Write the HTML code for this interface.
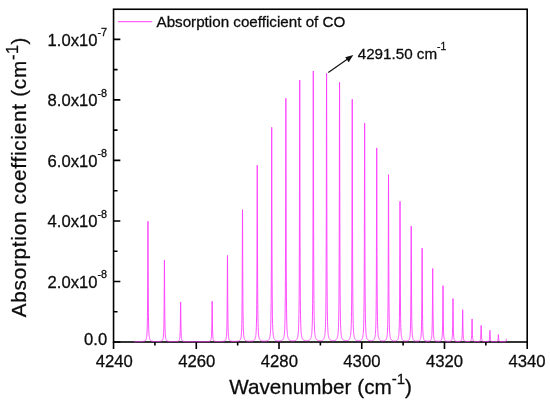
<!DOCTYPE html>
<html><head><meta charset="utf-8"><title>Absorption coefficient of CO</title>
<style>html,body{margin:0;padding:0;background:#fff}svg{display:block}.t{font-family:"Liberation Sans",Arial,sans-serif;fill:#0c0c0c;stroke:#0c0c0c;stroke-width:0.28px}</style></head>
<body>
<svg width="550" height="404" viewBox="0 0 550 404">
<rect width="550" height="404" fill="#fff"/>
<rect x="113.55" y="9.25" width="413.65" height="332.75" fill="none" stroke="#000" stroke-width="1.6"/>
<path d="M113.55 342.0v6.9M196.28 342.0v6.9M279.01 342.0v6.9M361.74 342.0v6.9M444.47 342.0v6.9M527.20 342.0v6.9M154.92 342.0v3.6M237.65 342.0v3.6M320.38 342.0v3.6M403.11 342.0v3.6M485.84 342.0v3.6M113.55 342.00h6.8M113.55 281.47h6.8M113.55 220.94h6.8M113.55 160.41h6.8M113.55 99.88h6.8M113.55 39.35h6.8M113.55 311.74h4.0M113.55 251.21h4.0M113.55 190.68h4.0M113.55 130.15h4.0M113.55 69.62h4.0" stroke="#000" stroke-width="1.6" fill="none"/>
<polyline points="134.23,341.69 134.33,341.69 134.43,341.69 134.53,341.68 134.63,341.68 134.73,341.68 134.83,341.68 134.93,341.68 135.03,341.68 135.13,341.68 135.23,341.68 135.33,341.68 135.43,341.68 135.53,341.68 135.63,341.68 135.73,341.67 135.83,341.67 135.93,341.67 136.03,341.67 136.13,341.67 136.23,341.67 136.33,341.67 136.43,341.67 136.53,341.66 136.63,341.66 136.73,341.66 136.83,341.66 136.93,341.66 137.03,341.66 137.13,341.66 137.23,341.66 137.33,341.65 137.43,341.65 137.53,341.65 137.63,341.65 137.73,341.65 137.83,341.65 137.93,341.64 138.03,341.64 138.13,341.64 138.23,341.64 138.33,341.64 138.43,341.63 138.53,341.63 138.63,341.63 138.73,341.63 138.83,341.62 138.93,341.62 139.03,341.62 139.13,341.62 139.23,341.61 139.33,341.61 139.43,341.61 139.53,341.61 139.63,341.60 139.73,341.60 139.83,341.60 139.93,341.59 140.03,341.59 140.13,341.59 140.23,341.58 140.33,341.58 140.43,341.57 140.53,341.57 140.63,341.56 140.73,341.56 140.83,341.56 140.93,341.55 141.03,341.55 141.13,341.54 141.23,341.53 141.33,341.53 141.43,341.52 141.53,341.52 141.63,341.51 141.73,341.50 141.83,341.49 141.93,341.49 142.03,341.48 142.13,341.47 142.23,341.46 142.33,341.45 142.43,341.44 142.53,341.43 142.63,341.42 142.73,341.40 142.83,341.39 142.93,341.38 143.03,341.36 143.13,341.35 143.23,341.33 143.33,341.32 143.43,341.30 143.53,341.28 143.63,341.26 143.73,341.23 143.83,341.21 143.93,341.18 144.03,341.16 144.13,341.13 144.23,341.09 144.33,341.06 144.43,341.02 144.53,340.98 144.63,340.93 144.73,340.88 144.83,340.83 144.93,340.77 145.03,340.70 145.13,340.63 145.23,340.55 145.33,340.46 145.43,340.36 145.53,340.24 145.63,340.12 145.73,339.97 145.83,339.80 145.93,339.61 146.03,339.39 146.13,339.14 146.23,338.83 146.33,338.48 146.43,338.05 146.53,337.53 146.63,336.90 146.73,336.12 146.83,335.14 146.93,333.88 147.03,332.23 147.13,330.02 147.23,326.98 147.33,322.68 147.43,316.39 147.53,306.88 147.63,292.22 147.73,270.18 147.83,242.04 147.93,222.15 147.96,221.27 148.03,230.27 148.13,257.40 148.23,282.98 148.33,300.84 148.43,312.46 148.53,320.06 148.63,325.17 148.73,328.73 148.83,331.28 148.93,333.16 149.03,334.59 149.13,335.69 149.23,336.55 149.33,337.25 149.43,337.81 149.53,338.28 149.63,338.67 149.73,338.99 149.83,339.27 149.93,339.50 150.03,339.71 150.13,339.88 150.23,340.04 150.33,340.17 150.43,340.29 150.53,340.40 150.63,340.49 150.73,340.58 150.83,340.65 150.93,340.72 151.03,340.78 151.13,340.84 151.23,340.89 151.33,340.94 151.43,340.98 151.53,341.02 151.63,341.05 151.73,341.09 151.83,341.12 151.93,341.14 152.03,341.17 152.13,341.19 152.23,341.22 152.33,341.24 152.43,341.26 152.53,341.28 152.63,341.29 152.73,341.31 152.83,341.32 152.93,341.34 153.03,341.35 153.13,341.36 153.23,341.37 153.33,341.38 153.43,341.39 153.53,341.40 153.63,341.41 153.73,341.42 153.83,341.43 153.93,341.44 154.03,341.44 154.13,341.45 154.23,341.45 154.33,341.46 154.43,341.47 154.53,341.47 154.63,341.48 154.73,341.48 154.83,341.48 154.93,341.49 155.03,341.49 155.13,341.50 155.23,341.50 155.33,341.50 155.43,341.50 155.53,341.51 155.63,341.51 155.73,341.51 155.83,341.51 155.93,341.51 156.03,341.51 156.13,341.52 156.23,341.52 156.33,341.52 156.43,341.52 156.53,341.52 156.63,341.52 156.73,341.52 156.83,341.52 156.93,341.52 157.03,341.52 157.13,341.52 157.23,341.52 157.33,341.52 157.43,341.51 157.53,341.51 157.63,341.51 157.73,341.51 157.83,341.51 157.93,341.50 158.03,341.50 158.13,341.50 158.23,341.49 158.33,341.49 158.43,341.49 158.53,341.48 158.63,341.48 158.73,341.47 158.83,341.47 158.93,341.46 159.03,341.46 159.13,341.45 159.23,341.44 159.33,341.44 159.43,341.43 159.53,341.42 159.63,341.41 159.73,341.40 159.83,341.39 159.93,341.38 160.03,341.37 160.13,341.35 160.23,341.34 160.33,341.32 160.43,341.30 160.53,341.29 160.63,341.27 160.73,341.25 160.83,341.22 160.93,341.20 161.03,341.17 161.13,341.14 161.23,341.11 161.33,341.07 161.43,341.03 161.53,340.98 161.63,340.93 161.73,340.88 161.83,340.82 161.93,340.75 162.03,340.67 162.13,340.58 162.23,340.48 162.33,340.37 162.43,340.23 162.53,340.08 162.63,339.90 162.73,339.69 162.83,339.44 162.93,339.15 163.03,338.79 163.13,338.34 163.23,337.79 163.33,337.10 163.43,336.21 163.53,335.03 163.63,333.45 163.73,331.27 163.83,328.17 163.93,323.59 164.03,316.65 164.13,305.94 164.23,290.06 164.33,270.95 164.43,260.18 164.44,260.14 164.53,269.03 164.63,287.99 164.73,304.44 164.83,315.68 164.93,322.96 165.03,327.75 165.13,330.99 165.23,333.25 165.33,334.88 165.43,336.10 165.53,337.02 165.63,337.73 165.73,338.29 165.83,338.75 165.93,339.12 166.03,339.42 166.13,339.68 166.23,339.89 166.33,340.07 166.43,340.23 166.53,340.36 166.63,340.48 166.73,340.58 166.83,340.67 166.93,340.75 167.03,340.82 167.13,340.88 167.23,340.94 167.33,340.99 167.43,341.04 167.53,341.08 167.63,341.12 167.73,341.15 167.83,341.18 167.93,341.21 168.03,341.24 168.13,341.26 168.23,341.28 168.33,341.30 168.43,341.32 168.53,341.34 168.63,341.36 168.73,341.37 168.83,341.39 168.93,341.40 169.03,341.41 169.13,341.42 169.23,341.44 169.33,341.45 169.43,341.45 169.53,341.46 169.63,341.47 169.73,341.48 169.83,341.49 169.93,341.49 170.03,341.50 170.13,341.51 170.23,341.51 170.33,341.52 170.43,341.52 170.53,341.53 170.63,341.53 170.73,341.54 170.83,341.54 170.93,341.55 171.03,341.55 171.13,341.55 171.23,341.56 171.33,341.56 171.43,341.56 171.53,341.57 171.63,341.57 171.73,341.57 171.83,341.57 171.93,341.57 172.03,341.58 172.13,341.58 172.23,341.58 172.33,341.58 172.43,341.58 172.53,341.58 172.63,341.59 172.73,341.59 172.83,341.59 172.93,341.59 173.03,341.59 173.13,341.59 173.23,341.59 173.33,341.59 173.43,341.59 173.53,341.59 173.63,341.59 173.73,341.59 173.83,341.59 173.93,341.59 174.03,341.59 174.13,341.59 174.23,341.59 174.33,341.59 174.43,341.59 174.53,341.58 174.63,341.58 174.73,341.58 174.83,341.58 174.93,341.58 175.03,341.58 175.13,341.57 175.23,341.57 175.33,341.57 175.43,341.56 175.53,341.56 175.63,341.56 175.73,341.55 175.83,341.55 175.93,341.55 176.03,341.54 176.13,341.54 176.23,341.53 176.33,341.52 176.43,341.52 176.53,341.51 176.63,341.50 176.73,341.49 176.83,341.48 176.93,341.47 177.03,341.46 177.13,341.45 177.23,341.44 177.33,341.42 177.43,341.41 177.53,341.39 177.63,341.37 177.73,341.35 177.83,341.32 177.93,341.30 178.03,341.27 178.13,341.23 178.23,341.20 178.33,341.15 178.43,341.10 178.53,341.05 178.63,340.98 178.73,340.91 178.83,340.82 178.93,340.72 179.03,340.60 179.13,340.45 179.23,340.27 179.33,340.06 179.43,339.79 179.53,339.45 179.63,339.01 179.73,338.43 179.83,337.65 179.93,336.57 180.03,335.03 180.13,332.76 180.23,329.30 180.33,323.97 180.43,316.12 180.53,306.88 180.63,302.15 180.63,302.15 180.73,306.96 180.83,316.20 180.93,324.03 181.03,329.34 181.13,332.78 181.23,335.05 181.33,336.58 181.43,337.66 181.53,338.44 181.63,339.02 181.73,339.46 181.83,339.80 181.93,340.07 182.03,340.28 182.13,340.46 182.23,340.61 182.33,340.73 182.43,340.83 182.53,340.92 182.63,341.00 182.73,341.06 182.83,341.12 182.93,341.17 183.03,341.21 183.13,341.25 183.23,341.28 183.33,341.31 183.43,341.34 183.53,341.36 183.63,341.39 183.73,341.41 183.83,341.43 183.93,341.44 184.03,341.46 184.13,341.47 184.23,341.48 184.33,341.50 184.43,341.51 184.53,341.52 184.63,341.53 184.73,341.53 184.83,341.54 184.93,341.55 185.03,341.56 185.13,341.56 185.23,341.57 185.33,341.58 185.43,341.58 185.53,341.59 185.63,341.59 185.73,341.60 185.83,341.60 185.93,341.60 186.03,341.61 186.13,341.61 186.23,341.62 186.33,341.62 186.43,341.62 186.53,341.62 186.63,341.63 186.73,341.63 186.83,341.63 186.93,341.63 187.03,341.64 187.13,341.64 187.23,341.64 187.33,341.64 187.43,341.65 187.53,341.65 187.63,341.65 187.73,341.65 187.83,341.65 187.93,341.65 188.03,341.65 188.13,341.66 188.23,341.66 188.33,341.66 188.43,341.66 188.53,341.66 188.63,341.66 188.73,341.66 188.83,341.66 188.93,341.67 189.03,341.67 189.13,341.67 189.23,341.67 189.33,341.67 189.43,341.67 189.53,341.67 189.63,341.67 189.73,341.67 189.83,341.67 189.93,341.67 190.03,341.67 190.13,341.68 190.23,341.68 190.33,341.68 190.43,341.68 190.53,341.68 190.63,341.68 190.73,341.68 190.83,341.68 190.93,341.68 191.03,341.68 191.13,341.68 191.23,341.68 191.33,341.68 191.43,341.68 191.53,341.68 191.63,341.68 191.73,341.68 191.83,341.68 191.93,341.68 192.03,341.68 192.13,341.68 192.23,341.68 192.33,341.69 192.43,341.69 192.53,341.69 192.63,341.69 192.73,341.69 192.83,341.69 192.93,341.69 193.03,341.69 193.13,341.69 193.23,341.69 193.33,341.69 193.43,341.69 193.53,341.69 193.63,341.69 193.73,341.69 193.83,341.69 193.93,341.69 194.03,341.69 194.13,341.69 194.23,341.69 194.33,341.69 194.43,341.69 194.53,341.69 194.63,341.69 194.73,341.69 194.83,341.69 194.93,341.69 195.03,341.69 195.13,341.69 195.23,341.69 195.33,341.69 195.43,341.69 195.53,341.69 195.63,341.69 195.73,341.69 195.83,341.69 195.93,341.69 196.03,341.69 196.13,341.69 196.23,341.69 196.33,341.69 196.43,341.69 196.53,341.69 196.63,341.69 196.73,341.69 196.83,341.69 196.93,341.69 197.03,341.69 197.13,341.69 197.23,341.69 197.33,341.69 197.43,341.69 197.53,341.69 197.63,341.69 197.73,341.69 197.83,341.69 197.93,341.69 198.03,341.69 198.13,341.69 198.23,341.69 198.33,341.69 198.43,341.69 198.53,341.69 198.63,341.69 198.73,341.69 198.83,341.69 198.93,341.69 199.03,341.69 199.13,341.69 199.23,341.69 199.33,341.68 199.43,341.68 199.53,341.68 199.63,341.68 199.73,341.68 199.83,341.68 199.93,341.68 200.03,341.68 200.13,341.68 200.23,341.68 200.33,341.68 200.43,341.68 200.53,341.68 200.63,341.68 200.73,341.68 200.83,341.68 200.93,341.68 201.03,341.68 201.13,341.68 201.23,341.68 201.33,341.68 201.43,341.68 201.53,341.68 201.63,341.68 201.73,341.68 201.83,341.67 201.93,341.67 202.03,341.67 202.13,341.67 202.23,341.67 202.33,341.67 202.43,341.67 202.53,341.67 202.63,341.67 202.73,341.67 202.83,341.67 202.93,341.67 203.03,341.67 203.13,341.67 203.23,341.66 203.33,341.66 203.43,341.66 203.53,341.66 203.63,341.66 203.73,341.66 203.83,341.66 203.93,341.66 204.03,341.66 204.13,341.65 204.23,341.65 204.33,341.65 204.43,341.65 204.53,341.65 204.63,341.65 204.73,341.65 204.83,341.64 204.93,341.64 205.03,341.64 205.13,341.64 205.23,341.64 205.33,341.64 205.43,341.63 205.53,341.63 205.63,341.63 205.73,341.63 205.83,341.62 205.93,341.62 206.03,341.62 206.13,341.62 206.23,341.61 206.33,341.61 206.43,341.61 206.53,341.60 206.63,341.60 206.73,341.60 206.83,341.59 206.93,341.59 207.03,341.58 207.13,341.58 207.23,341.57 207.33,341.57 207.43,341.56 207.53,341.56 207.63,341.55 207.73,341.54 207.83,341.54 207.93,341.53 208.03,341.52 208.13,341.51 208.23,341.50 208.33,341.49 208.43,341.48 208.53,341.47 208.63,341.46 208.73,341.44 208.83,341.43 208.93,341.41 209.03,341.39 209.13,341.37 209.23,341.35 209.33,341.32 209.43,341.30 209.53,341.27 209.63,341.23 209.73,341.19 209.83,341.15 209.93,341.10 210.03,341.04 210.13,340.98 210.23,340.90 210.33,340.82 210.43,340.71 210.53,340.59 210.63,340.45 210.73,340.28 210.83,340.06 210.93,339.80 211.03,339.46 211.13,339.04 211.23,338.48 211.33,337.73 211.43,336.70 211.53,335.24 211.63,333.10 211.73,329.86 211.83,324.87 211.93,317.38 212.03,307.91 212.13,301.45 212.15,301.23 212.23,304.49 212.33,313.67 212.43,322.18 212.53,328.10 212.63,331.95 212.73,334.47 212.83,336.17 212.93,337.35 213.03,338.20 213.13,338.82 213.23,339.30 213.33,339.66 213.43,339.95 213.53,340.18 213.63,340.37 213.73,340.52 213.83,340.65 213.93,340.76 214.03,340.85 214.13,340.93 214.23,341.00 214.33,341.06 214.43,341.11 214.53,341.15 214.63,341.19 214.73,341.23 214.83,341.26 214.93,341.29 215.03,341.31 215.13,341.33 215.23,341.35 215.33,341.37 215.43,341.39 215.53,341.40 215.63,341.42 215.73,341.43 215.83,341.44 215.93,341.45 216.03,341.46 216.13,341.47 216.23,341.48 216.33,341.48 216.43,341.49 216.53,341.50 216.63,341.50 216.73,341.51 216.83,341.51 216.93,341.52 217.03,341.52 217.13,341.52 217.23,341.53 217.33,341.53 217.43,341.53 217.53,341.53 217.63,341.54 217.73,341.54 217.83,341.54 217.93,341.54 218.03,341.54 218.13,341.54 218.23,341.55 218.33,341.55 218.43,341.55 218.53,341.55 218.63,341.55 218.73,341.55 218.83,341.55 218.93,341.55 219.03,341.55 219.13,341.55 219.23,341.55 219.33,341.54 219.43,341.54 219.53,341.54 219.63,341.54 219.73,341.54 219.83,341.54 219.93,341.54 220.03,341.53 220.13,341.53 220.23,341.53 220.33,341.53 220.43,341.52 220.53,341.52 220.63,341.52 220.73,341.51 220.83,341.51 220.93,341.51 221.03,341.50 221.13,341.50 221.23,341.49 221.33,341.49 221.43,341.48 221.53,341.48 221.63,341.47 221.73,341.47 221.83,341.46 221.93,341.45 222.03,341.45 222.13,341.44 222.23,341.43 222.33,341.42 222.43,341.41 222.53,341.40 222.63,341.39 222.73,341.38 222.83,341.37 222.93,341.36 223.03,341.34 223.13,341.33 223.23,341.31 223.33,341.30 223.43,341.28 223.53,341.26 223.63,341.24 223.73,341.21 223.83,341.19 223.93,341.16 224.03,341.13 224.13,341.10 224.23,341.07 224.33,341.03 224.43,340.99 224.53,340.94 224.63,340.89 224.73,340.83 224.83,340.77 224.93,340.70 225.03,340.62 225.13,340.53 225.23,340.43 225.33,340.31 225.43,340.18 225.53,340.03 225.63,339.85 225.73,339.64 225.83,339.40 225.93,339.10 226.03,338.75 226.13,338.32 226.23,337.79 226.33,337.12 226.43,336.27 226.53,335.16 226.63,333.68 226.73,331.66 226.83,328.82 226.93,324.69 227.03,318.50 227.13,308.97 227.23,294.47 227.33,274.87 227.43,257.87 227.48,255.50 227.53,258.88 227.63,276.77 227.73,296.05 227.83,310.03 227.93,319.18 228.03,325.14 228.13,329.12 228.23,331.87 228.33,333.82 228.43,335.26 228.53,336.34 228.63,337.17 228.73,337.83 228.83,338.35 228.93,338.77 229.03,339.12 229.13,339.40 229.23,339.64 229.33,339.85 229.43,340.02 229.53,340.17 229.63,340.30 229.73,340.41 229.83,340.51 229.93,340.60 230.03,340.68 230.13,340.75 230.23,340.81 230.33,340.86 230.43,340.91 230.53,340.95 230.63,340.99 230.73,341.03 230.83,341.06 230.93,341.09 231.03,341.12 231.13,341.15 231.23,341.17 231.33,341.19 231.43,341.21 231.53,341.23 231.63,341.24 231.73,341.26 231.83,341.27 231.93,341.29 232.03,341.30 232.13,341.31 232.23,341.32 232.33,341.33 232.43,341.34 232.53,341.34 232.63,341.35 232.73,341.36 232.83,341.36 232.93,341.37 233.03,341.38 233.13,341.38 233.23,341.38 233.33,341.39 233.43,341.39 233.53,341.39 233.63,341.40 233.73,341.40 233.83,341.40 233.93,341.40 234.03,341.40 234.13,341.40 234.23,341.40 234.33,341.40 234.43,341.40 234.53,341.40 234.63,341.40 234.73,341.40 234.83,341.40 234.93,341.40 235.03,341.40 235.13,341.40 235.23,341.39 235.33,341.39 235.43,341.39 235.53,341.38 235.63,341.38 235.73,341.38 235.83,341.37 235.93,341.37 236.03,341.36 236.13,341.36 236.23,341.35 236.33,341.34 236.43,341.34 236.53,341.33 236.63,341.32 236.73,341.31 236.83,341.30 236.93,341.29 237.03,341.28 237.13,341.27 237.23,341.26 237.33,341.25 237.43,341.24 237.53,341.22 237.63,341.21 237.73,341.19 237.83,341.17 237.93,341.15 238.03,341.13 238.13,341.11 238.23,341.09 238.33,341.07 238.43,341.04 238.53,341.01 238.63,340.98 238.73,340.95 238.83,340.91 238.93,340.87 239.03,340.83 239.13,340.78 239.23,340.73 239.33,340.67 239.43,340.61 239.53,340.54 239.63,340.47 239.73,340.38 239.83,340.29 239.93,340.19 240.03,340.07 240.13,339.94 240.23,339.79 240.33,339.62 240.43,339.43 240.53,339.21 240.63,338.95 240.73,338.65 240.83,338.29 240.93,337.87 241.03,337.36 241.13,336.75 241.23,335.99 241.33,335.05 241.43,333.85 241.53,332.30 241.63,330.25 241.73,327.48 241.83,323.62 241.93,318.08 242.03,309.85 242.13,297.27 242.23,277.92 242.33,250.11 242.43,220.19 242.51,209.66 242.53,210.42 242.63,231.57 242.73,262.45 242.83,286.83 242.93,303.09 243.03,313.63 243.13,320.60 243.23,325.36 243.33,328.71 243.43,331.15 243.53,332.97 243.63,334.36 243.73,335.44 243.83,336.30 243.93,337.00 244.03,337.56 244.13,338.03 244.23,338.42 244.33,338.75 244.43,339.03 244.53,339.28 244.63,339.48 244.73,339.67 244.83,339.82 244.93,339.96 245.03,340.09 245.13,340.20 245.23,340.29 245.33,340.38 245.43,340.46 245.53,340.53 245.63,340.59 245.73,340.65 245.83,340.71 245.93,340.75 246.03,340.80 246.13,340.84 246.23,340.87 246.33,340.91 246.43,340.94 246.53,340.97 246.63,340.99 246.73,341.02 246.83,341.04 246.93,341.06 247.03,341.08 247.13,341.09 247.23,341.11 247.33,341.13 247.43,341.14 247.53,341.15 247.63,341.16 247.73,341.17 247.83,341.18 247.93,341.19 248.03,341.20 248.13,341.21 248.23,341.22 248.33,341.22 248.43,341.23 248.53,341.23 248.63,341.24 248.73,341.24 248.83,341.24 248.93,341.25 249.03,341.25 249.13,341.25 249.23,341.25 249.33,341.25 249.43,341.25 249.53,341.25 249.63,341.25 249.73,341.25 249.83,341.25 249.93,341.25 250.03,341.25 250.13,341.24 250.23,341.24 250.33,341.24 250.43,341.23 250.53,341.23 250.63,341.22 250.73,341.22 250.83,341.21 250.93,341.20 251.03,341.19 251.13,341.19 251.23,341.18 251.33,341.17 251.43,341.16 251.53,341.15 251.63,341.13 251.73,341.12 251.83,341.11 251.93,341.09 252.03,341.08 252.13,341.06 252.23,341.04 252.33,341.02 252.43,341.00 252.53,340.98 252.63,340.96 252.73,340.93 252.83,340.90 252.93,340.88 253.03,340.84 253.13,340.81 253.23,340.77 253.33,340.73 253.43,340.69 253.53,340.64 253.63,340.59 253.73,340.54 253.83,340.48 253.93,340.41 254.03,340.34 254.13,340.26 254.23,340.17 254.33,340.08 254.43,339.97 254.53,339.85 254.63,339.72 254.73,339.57 254.83,339.41 254.93,339.22 255.03,339.01 255.13,338.76 255.23,338.48 255.33,338.16 255.43,337.78 255.53,337.34 255.63,336.82 255.73,336.19 255.83,335.44 255.93,334.51 256.03,333.37 256.13,331.92 256.23,330.07 256.33,327.65 256.43,324.40 256.53,319.94 256.63,313.63 256.73,304.37 256.83,290.39 256.93,268.83 257.03,236.45 257.13,195.20 257.23,166.33 257.25,165.12 257.33,178.58 257.43,218.40 257.53,255.79 257.63,281.87 257.73,298.83 257.83,309.92 257.93,317.39 258.03,322.58 258.13,326.30 258.23,329.05 258.33,331.14 258.43,332.75 258.53,334.01 258.63,335.03 258.73,335.85 258.83,336.53 258.93,337.10 259.03,337.57 259.13,337.98 259.23,338.32 259.33,338.62 259.43,338.87 259.53,339.10 259.63,339.30 259.73,339.47 259.83,339.62 259.93,339.76 260.03,339.88 260.13,339.99 260.23,340.09 260.33,340.18 260.43,340.26 260.53,340.34 260.63,340.40 260.73,340.46 260.83,340.52 260.93,340.57 261.03,340.62 261.13,340.66 261.23,340.70 261.33,340.73 261.43,340.77 261.53,340.80 261.63,340.83 261.73,340.85 261.83,340.88 261.93,340.90 262.03,340.92 262.13,340.94 262.23,340.96 262.33,340.97 262.43,340.99 262.53,341.00 262.63,341.02 262.73,341.03 262.83,341.04 262.93,341.05 263.03,341.06 263.13,341.06 263.23,341.07 263.33,341.08 263.43,341.08 263.53,341.09 263.63,341.09 263.73,341.10 263.83,341.10 263.93,341.10 264.03,341.10 264.13,341.10 264.23,341.10 264.33,341.10 264.43,341.10 264.53,341.10 264.63,341.10 264.73,341.09 264.83,341.09 264.93,341.09 265.03,341.08 265.13,341.07 265.23,341.07 265.33,341.06 265.43,341.05 265.53,341.04 265.63,341.03 265.73,341.02 265.83,341.01 265.93,341.00 266.03,340.99 266.13,340.97 266.23,340.96 266.33,340.94 266.43,340.92 266.53,340.91 266.63,340.88 266.73,340.86 266.83,340.84 266.93,340.81 267.03,340.79 267.13,340.76 267.23,340.73 267.33,340.69 267.43,340.66 267.53,340.62 267.63,340.57 267.73,340.53 267.83,340.48 267.93,340.42 268.03,340.37 268.13,340.30 268.23,340.23 268.33,340.16 268.43,340.07 268.53,339.98 268.63,339.88 268.73,339.77 268.83,339.65 268.93,339.52 269.03,339.36 269.13,339.20 269.23,339.01 269.33,338.79 269.43,338.55 269.53,338.28 269.63,337.96 269.73,337.60 269.83,337.17 269.93,336.68 270.03,336.10 270.13,335.41 270.23,334.58 270.33,333.57 270.43,332.32 270.53,330.77 270.63,328.79 270.73,326.24 270.83,322.86 270.93,318.28 271.03,311.89 271.13,302.70 271.23,289.01 271.33,268.08 271.43,235.90 271.53,190.06 271.63,142.22 271.71,127.38 271.73,129.39 271.83,165.83 271.93,215.75 272.03,254.50 272.13,280.22 272.23,296.91 272.33,307.96 272.43,315.52 272.53,320.86 272.63,324.75 272.73,327.66 272.83,329.88 272.93,331.62 273.03,332.99 273.13,334.11 273.23,335.02 273.33,335.77 273.43,336.40 273.53,336.93 273.63,337.38 273.73,337.77 273.83,338.11 273.93,338.40 274.03,338.65 274.13,338.88 274.23,339.08 274.33,339.26 274.43,339.41 274.53,339.55 274.63,339.68 274.73,339.79 274.83,339.90 274.93,339.99 275.03,340.08 275.13,340.15 275.23,340.22 275.33,340.29 275.43,340.35 275.53,340.40 275.63,340.45 275.73,340.50 275.83,340.54 275.93,340.58 276.03,340.62 276.13,340.65 276.23,340.68 276.33,340.71 276.43,340.73 276.53,340.76 276.63,340.78 276.73,340.80 276.83,340.82 276.93,340.84 277.03,340.85 277.13,340.87 277.23,340.88 277.33,340.89 277.43,340.91 277.53,340.92 277.63,340.92 277.73,340.93 277.83,340.94 277.93,340.95 278.03,340.95 278.13,340.95 278.23,340.96 278.33,340.96 278.43,340.96 278.53,340.96 278.63,340.96 278.73,340.96 278.83,340.96 278.93,340.96 279.03,340.96 279.13,340.95 279.23,340.95 279.33,340.94 279.43,340.94 279.53,340.93 279.63,340.92 279.73,340.91 279.83,340.90 279.93,340.89 280.03,340.88 280.13,340.86 280.23,340.85 280.33,340.83 280.43,340.82 280.53,340.80 280.63,340.78 280.73,340.76 280.83,340.73 280.93,340.71 281.03,340.68 281.13,340.65 281.23,340.62 281.33,340.59 281.43,340.55 281.53,340.51 281.63,340.47 281.73,340.42 281.83,340.37 281.93,340.32 282.03,340.26 282.13,340.20 282.23,340.13 282.33,340.06 282.43,339.98 282.53,339.89 282.63,339.79 282.73,339.68 282.83,339.57 282.93,339.44 283.03,339.29 283.13,339.13 283.23,338.95 283.33,338.75 283.43,338.53 283.53,338.27 283.63,337.98 283.73,337.65 283.83,337.27 283.93,336.83 284.03,336.32 284.13,335.72 284.23,335.01 284.33,334.17 284.43,333.14 284.53,331.89 284.63,330.35 284.73,328.40 284.83,325.91 284.93,322.66 285.03,318.32 285.13,312.37 285.23,303.96 285.33,291.69 285.43,273.19 285.53,244.69 285.63,201.61 285.73,145.22 285.83,101.63 285.86,98.24 285.93,112.71 286.03,166.08 286.13,218.92 286.23,256.34 286.33,280.73 286.43,296.64 286.53,307.32 286.63,314.72 286.73,320.02 286.83,323.92 286.93,326.87 287.03,329.14 287.13,330.93 287.23,332.36 287.33,333.52 287.43,334.47 287.53,335.26 287.63,335.93 287.73,336.49 287.83,336.98 287.93,337.39 288.03,337.75 288.13,338.07 288.23,338.34 288.33,338.58 288.43,338.80 288.53,338.99 288.63,339.16 288.73,339.31 288.83,339.45 288.93,339.58 289.03,339.69 289.13,339.79 289.23,339.88 289.33,339.97 289.43,340.05 289.53,340.12 289.63,340.18 289.73,340.24 289.83,340.30 289.93,340.35 290.03,340.39 290.13,340.44 290.23,340.48 290.33,340.51 290.43,340.55 290.53,340.58 290.63,340.61 290.73,340.63 290.83,340.66 290.93,340.68 291.03,340.70 291.13,340.72 291.23,340.74 291.33,340.75 291.43,340.77 291.53,340.78 291.63,340.79 291.73,340.80 291.83,340.81 291.93,340.82 292.03,340.83 292.13,340.83 292.23,340.84 292.33,340.84 292.43,340.84 292.53,340.85 292.63,340.85 292.73,340.85 292.83,340.85 292.93,340.84 293.03,340.84 293.13,340.84 293.23,340.83 293.33,340.83 293.43,340.82 293.53,340.81 293.63,340.80 293.73,340.79 293.83,340.78 293.93,340.77 294.03,340.76 294.13,340.74 294.23,340.72 294.33,340.71 294.43,340.69 294.53,340.67 294.63,340.64 294.73,340.62 294.83,340.59 294.93,340.56 295.03,340.53 295.13,340.50 295.23,340.46 295.33,340.42 295.43,340.38 295.53,340.33 295.63,340.28 295.73,340.23 295.83,340.17 295.93,340.11 296.03,340.04 296.13,339.96 296.23,339.88 296.33,339.79 296.43,339.69 296.53,339.59 296.63,339.47 296.73,339.34 296.83,339.19 296.93,339.03 297.03,338.85 297.13,338.65 297.23,338.43 297.33,338.18 297.43,337.89 297.53,337.57 297.63,337.19 297.73,336.77 297.83,336.27 297.93,335.69 298.03,335.01 298.13,334.20 298.23,333.23 298.33,332.05 298.43,330.61 298.53,328.82 298.63,326.55 298.73,323.62 298.83,319.77 298.93,314.59 299.03,307.40 299.13,297.15 299.23,282.00 299.33,258.96 299.43,223.44 299.53,171.23 299.63,110.25 299.73,80.01 299.73,80.03 299.83,112.87 299.93,174.05 300.03,225.47 300.13,260.28 300.23,282.86 300.33,297.72 300.43,307.80 300.53,314.86 300.63,319.97 300.73,323.77 300.83,326.66 300.93,328.90 301.03,330.68 301.13,332.10 301.23,333.27 301.33,334.23 301.43,335.03 301.53,335.71 301.63,336.28 301.73,336.77 301.83,337.20 301.93,337.57 302.03,337.89 302.13,338.17 302.23,338.42 302.33,338.64 302.43,338.84 302.53,339.02 302.63,339.18 302.73,339.32 302.83,339.45 302.93,339.57 303.03,339.67 303.13,339.77 303.23,339.86 303.33,339.94 303.43,340.01 303.53,340.08 303.63,340.14 303.73,340.20 303.83,340.25 303.93,340.30 304.03,340.34 304.13,340.38 304.23,340.42 304.33,340.46 304.43,340.49 304.53,340.52 304.63,340.55 304.73,340.57 304.83,340.59 304.93,340.62 305.03,340.64 305.13,340.65 305.23,340.67 305.33,340.68 305.43,340.70 305.53,340.71 305.63,340.72 305.73,340.73 305.83,340.74 305.93,340.74 306.03,340.75 306.13,340.75 306.23,340.76 306.33,340.76 306.43,340.76 306.53,340.76 306.63,340.76 306.73,340.75 306.83,340.75 306.93,340.75 307.03,340.74 307.13,340.73 307.23,340.73 307.33,340.72 307.43,340.70 307.53,340.69 307.63,340.68 307.73,340.66 307.83,340.65 307.93,340.63 308.03,340.61 308.13,340.59 308.23,340.57 308.33,340.54 308.43,340.51 308.53,340.48 308.63,340.45 308.73,340.42 308.83,340.38 308.93,340.34 309.03,340.29 309.13,340.24 309.23,340.19 309.33,340.14 309.43,340.08 309.53,340.01 309.63,339.94 309.73,339.86 309.83,339.77 309.93,339.68 310.03,339.57 310.13,339.46 310.23,339.33 310.33,339.19 310.43,339.04 310.53,338.87 310.63,338.68 310.73,338.47 310.83,338.23 310.93,337.96 311.03,337.65 311.13,337.30 311.23,336.90 311.33,336.44 311.43,335.91 311.53,335.28 311.63,334.54 311.73,333.66 311.83,332.61 311.93,331.32 312.03,329.74 312.13,327.76 312.23,325.24 312.33,321.98 312.43,317.66 312.53,311.80 312.63,303.62 312.73,291.83 312.83,274.25 312.93,247.34 313.03,206.01 313.13,147.52 313.23,87.89 313.30,71.09 313.33,74.50 313.43,122.29 313.53,185.06 313.63,233.23 313.73,265.12 313.83,285.82 313.93,299.54 314.03,308.94 314.13,315.59 314.23,320.44 314.33,324.07 314.43,326.84 314.53,329.01 314.63,330.74 314.73,332.13 314.83,333.27 314.93,334.21 315.03,335.00 315.13,335.67 315.23,336.23 315.33,336.72 315.43,337.14 315.53,337.51 315.63,337.83 315.73,338.12 315.83,338.37 315.93,338.59 316.03,338.79 316.13,338.96 316.23,339.12 316.33,339.27 316.43,339.40 316.53,339.51 316.63,339.62 316.73,339.72 316.83,339.81 316.93,339.89 317.03,339.96 317.13,340.03 317.23,340.09 317.33,340.15 317.43,340.20 317.53,340.25 317.63,340.30 317.73,340.34 317.83,340.38 317.93,340.41 318.03,340.44 318.13,340.47 318.23,340.50 318.33,340.52 318.43,340.55 318.53,340.57 318.63,340.59 318.73,340.61 318.83,340.62 318.93,340.64 319.03,340.65 319.13,340.66 319.23,340.67 319.33,340.68 319.43,340.68 319.53,340.69 319.63,340.69 319.73,340.70 319.83,340.70 319.93,340.70 320.03,340.70 320.13,340.70 320.23,340.70 320.33,340.69 320.43,340.69 320.53,340.68 320.63,340.67 320.73,340.66 320.83,340.65 320.93,340.64 321.03,340.62 321.13,340.61 321.23,340.59 321.33,340.57 321.43,340.55 321.53,340.53 321.63,340.51 321.73,340.48 321.83,340.45 321.93,340.42 322.03,340.38 322.13,340.35 322.23,340.31 322.33,340.26 322.43,340.21 322.53,340.16 322.63,340.11 322.73,340.04 322.83,339.98 322.93,339.91 323.03,339.83 323.13,339.74 323.23,339.64 323.33,339.54 323.43,339.42 323.53,339.30 323.63,339.16 323.73,339.00 323.83,338.83 323.93,338.64 324.03,338.42 324.13,338.18 324.23,337.90 324.33,337.59 324.43,337.23 324.53,336.82 324.63,336.35 324.73,335.80 324.83,335.16 324.93,334.40 325.03,333.49 325.13,332.39 325.23,331.06 325.33,329.41 325.43,327.34 325.53,324.70 325.63,321.26 325.73,316.68 325.83,310.43 325.93,301.64 326.03,288.87 326.13,269.71 326.23,240.24 326.33,195.36 326.43,134.48 326.53,81.11 326.58,73.28 326.63,83.28 326.73,138.56 326.83,198.73 326.93,242.51 327.03,271.17 327.13,289.83 327.23,302.29 327.33,310.89 327.43,317.01 327.53,321.50 327.63,324.88 327.73,327.48 327.83,329.52 327.93,331.15 328.03,332.47 328.13,333.55 328.23,334.45 328.33,335.20 328.43,335.84 328.53,336.38 328.63,336.85 328.73,337.25 328.83,337.61 328.93,337.92 329.03,338.19 329.13,338.43 329.23,338.64 329.33,338.84 329.43,339.01 329.53,339.16 329.63,339.30 329.73,339.43 329.83,339.54 329.93,339.64 330.03,339.74 330.13,339.82 330.23,339.90 330.33,339.98 330.43,340.04 330.53,340.10 330.63,340.16 330.73,340.21 330.83,340.26 330.93,340.30 331.03,340.34 331.13,340.38 331.23,340.41 331.33,340.44 331.43,340.47 331.53,340.50 331.63,340.52 331.73,340.54 331.83,340.56 331.93,340.58 332.03,340.59 332.13,340.61 332.23,340.62 332.33,340.63 332.43,340.64 332.53,340.65 332.63,340.66 332.73,340.66 332.83,340.67 332.93,340.67 333.03,340.67 333.13,340.67 333.23,340.67 333.33,340.67 333.43,340.67 333.53,340.66 333.63,340.66 333.73,340.65 333.83,340.64 333.93,340.63 334.03,340.62 334.13,340.60 334.23,340.59 334.33,340.57 334.43,340.55 334.53,340.53 334.63,340.51 334.73,340.48 334.83,340.45 334.93,340.42 335.03,340.39 335.13,340.35 335.23,340.32 335.33,340.27 335.43,340.23 335.53,340.18 335.63,340.12 335.73,340.06 335.83,340.00 335.93,339.93 336.03,339.85 336.13,339.77 336.23,339.67 336.33,339.57 336.43,339.46 336.53,339.33 336.63,339.20 336.73,339.04 336.83,338.87 336.93,338.68 337.03,338.47 337.13,338.23 337.23,337.96 337.33,337.65 337.43,337.30 337.53,336.90 337.63,336.43 337.73,335.88 337.83,335.24 337.93,334.48 338.03,333.58 338.13,332.49 338.23,331.15 338.33,329.49 338.43,327.41 338.53,324.74 338.63,321.25 338.73,316.59 338.83,310.19 338.93,301.14 339.03,287.92 339.13,267.98 339.23,237.26 339.33,190.89 339.43,130.66 339.53,85.38 339.56,82.37 339.63,99.02 339.73,156.38 339.83,212.26 339.93,251.65 340.03,277.30 340.13,294.05 340.23,305.30 340.33,313.11 340.43,318.70 340.53,322.82 340.63,325.93 340.73,328.34 340.83,330.23 340.93,331.74 341.03,332.97 341.13,333.98 341.23,334.82 341.33,335.52 341.43,336.12 341.53,336.63 341.63,337.07 341.73,337.46 341.83,337.79 341.93,338.08 342.03,338.34 342.13,338.57 342.23,338.77 342.33,338.95 342.43,339.11 342.53,339.26 342.63,339.39 342.73,339.51 342.83,339.62 342.93,339.72 343.03,339.81 343.13,339.89 343.23,339.96 343.33,340.03 343.43,340.09 343.53,340.15 343.63,340.20 343.73,340.25 343.83,340.30 343.93,340.34 344.03,340.38 344.13,340.41 344.23,340.44 344.33,340.47 344.43,340.50 344.53,340.52 344.63,340.54 344.73,340.56 344.83,340.58 344.93,340.60 345.03,340.61 345.13,340.63 345.23,340.64 345.33,340.65 345.43,340.66 345.53,340.66 345.63,340.67 345.73,340.67 345.83,340.68 345.93,340.68 346.03,340.68 346.13,340.68 346.23,340.67 346.33,340.67 346.43,340.66 346.53,340.66 346.63,340.65 346.73,340.64 346.83,340.63 346.93,340.61 347.03,340.60 347.13,340.58 347.23,340.56 347.33,340.54 347.43,340.52 347.53,340.49 347.63,340.47 347.73,340.44 347.83,340.40 347.93,340.37 348.03,340.33 348.13,340.29 348.23,340.24 348.33,340.19 348.43,340.13 348.53,340.07 348.63,340.01 348.73,339.93 348.83,339.85 348.93,339.77 349.03,339.67 349.13,339.57 349.23,339.45 349.33,339.32 349.43,339.17 349.53,339.01 349.63,338.83 349.73,338.63 349.83,338.41 349.93,338.15 350.03,337.86 350.13,337.52 350.23,337.14 350.33,336.69 350.43,336.17 350.53,335.56 350.63,334.83 350.73,333.97 350.83,332.92 350.93,331.63 351.03,330.04 351.13,328.03 351.23,325.44 351.33,322.06 351.43,317.52 351.53,311.27 351.63,302.39 351.73,289.36 351.83,269.63 351.93,239.20 352.03,193.71 352.13,136.95 352.23,100.11 352.25,99.28 352.33,120.70 352.43,176.14 352.53,226.52 352.63,261.35 352.73,283.98 352.83,298.80 352.93,308.79 353.03,315.76 353.13,320.77 353.23,324.47 353.33,327.28 353.43,329.46 353.53,331.17 353.63,332.54 353.73,333.66 353.83,334.58 353.93,335.35 354.03,335.99 354.13,336.54 354.23,337.01 354.33,337.41 354.43,337.76 354.53,338.07 354.63,338.34 354.73,338.58 354.83,338.79 354.93,338.97 355.03,339.14 355.13,339.29 355.23,339.42 355.33,339.55 355.43,339.66 355.53,339.75 355.63,339.85 355.73,339.93 355.83,340.00 355.93,340.07 356.03,340.13 356.13,340.19 356.23,340.25 356.33,340.29 356.43,340.34 356.53,340.38 356.63,340.42 356.73,340.45 356.83,340.48 356.93,340.51 357.03,340.54 357.13,340.56 357.23,340.58 357.33,340.60 357.43,340.62 357.53,340.64 357.63,340.65 357.73,340.67 357.83,340.68 357.93,340.69 358.03,340.69 358.13,340.70 358.23,340.71 358.33,340.71 358.43,340.71 358.53,340.71 358.63,340.71 358.73,340.71 358.83,340.71 358.93,340.70 359.03,340.70 359.13,340.69 359.23,340.68 359.33,340.67 359.43,340.66 359.53,340.64 359.63,340.63 359.73,340.61 359.83,340.59 359.93,340.57 360.03,340.55 360.13,340.52 360.23,340.49 360.33,340.46 360.43,340.43 360.53,340.39 360.63,340.35 360.73,340.30 360.83,340.25 360.93,340.20 361.03,340.14 361.13,340.07 361.23,340.00 361.33,339.92 361.43,339.83 361.53,339.74 361.63,339.63 361.73,339.51 361.83,339.38 361.93,339.24 362.03,339.07 362.13,338.89 362.23,338.68 362.33,338.45 362.43,338.18 362.53,337.88 362.63,337.52 362.73,337.12 362.83,336.64 362.93,336.08 363.03,335.41 363.13,334.62 363.23,333.65 363.33,332.47 363.43,331.00 363.53,329.14 363.63,326.75 363.73,323.61 363.83,319.39 363.93,313.56 364.03,305.25 364.13,293.01 364.23,274.44 364.33,245.79 364.43,203.33 364.53,152.13 364.63,123.09 364.64,122.99 364.73,146.63 364.83,197.39 364.93,241.51 365.03,271.65 365.13,291.20 365.23,304.04 365.33,312.72 365.43,318.80 365.53,323.18 365.63,326.43 365.73,328.90 365.83,330.81 365.93,332.32 366.03,333.54 366.13,334.52 366.23,335.34 366.33,336.02 366.43,336.59 366.53,337.08 366.63,337.49 366.73,337.85 366.83,338.16 366.93,338.44 367.03,338.68 367.13,338.89 367.23,339.07 367.33,339.24 367.43,339.39 367.53,339.52 367.63,339.64 367.73,339.75 367.83,339.85 367.93,339.94 368.03,340.02 368.13,340.09 368.23,340.16 368.33,340.22 368.43,340.28 368.53,340.33 368.63,340.37 368.73,340.42 368.83,340.46 368.93,340.49 369.03,340.53 369.13,340.56 369.23,340.58 369.33,340.61 369.43,340.63 369.53,340.65 369.63,340.67 369.73,340.69 369.83,340.70 369.93,340.72 370.03,340.73 370.13,340.74 370.23,340.75 370.33,340.76 370.43,340.76 370.53,340.77 370.63,340.77 370.73,340.77 370.83,340.77 370.93,340.77 371.03,340.77 371.13,340.77 371.23,340.76 371.33,340.75 371.43,340.75 371.53,340.74 371.63,340.73 371.73,340.71 371.83,340.70 371.93,340.68 372.03,340.66 372.13,340.64 372.23,340.62 372.33,340.60 372.43,340.57 372.53,340.54 372.63,340.51 372.73,340.47 372.83,340.43 372.93,340.39 373.03,340.34 373.13,340.29 373.23,340.23 373.33,340.17 373.43,340.10 373.53,340.02 373.63,339.93 373.73,339.84 373.83,339.74 373.93,339.62 374.03,339.49 374.13,339.34 374.23,339.18 374.33,339.00 374.43,338.79 374.53,338.55 374.63,338.27 374.73,337.96 374.83,337.60 374.93,337.17 375.03,336.67 375.13,336.07 375.23,335.36 375.33,334.49 375.43,333.43 375.53,332.10 375.63,330.43 375.73,328.27 375.83,325.43 375.93,321.61 376.03,316.32 376.13,308.77 376.23,297.62 376.33,280.66 376.43,254.52 376.53,216.04 376.63,170.84 376.73,147.91 376.73,147.91 376.83,171.66 376.93,216.92 377.03,255.16 377.13,281.08 377.23,297.89 377.33,308.95 377.43,316.45 377.53,321.71 377.63,325.51 377.73,328.33 377.83,330.48 377.93,332.14 378.03,333.46 378.13,334.52 378.23,335.39 378.33,336.10 378.43,336.69 378.53,337.20 378.63,337.62 378.73,337.99 378.83,338.30 378.93,338.57 379.03,338.81 379.13,339.02 379.23,339.21 379.33,339.37 379.43,339.52 379.53,339.65 379.63,339.77 379.73,339.87 379.83,339.97 379.93,340.05 380.03,340.13 380.13,340.20 380.23,340.27 380.33,340.33 380.43,340.38 380.53,340.43 380.63,340.47 380.73,340.51 380.83,340.55 380.93,340.59 381.03,340.62 381.13,340.65 381.23,340.67 381.33,340.70 381.43,340.72 381.53,340.74 381.63,340.76 381.73,340.77 381.83,340.79 381.93,340.80 382.03,340.81 382.13,340.82 382.23,340.83 382.33,340.83 382.43,340.84 382.53,340.84 382.63,340.85 382.73,340.85 382.83,340.85 382.93,340.85 383.03,340.84 383.13,340.84 383.23,340.84 383.33,340.83 383.43,340.82 383.53,340.81 383.63,340.80 383.73,340.79 383.83,340.77 383.93,340.76 384.03,340.74 384.13,340.72 384.23,340.69 384.33,340.67 384.43,340.64 384.53,340.61 384.63,340.58 384.73,340.54 384.83,340.50 384.93,340.46 385.03,340.41 385.13,340.35 385.23,340.29 385.33,340.23 385.43,340.15 385.53,340.07 385.63,339.98 385.73,339.88 385.83,339.77 385.93,339.65 386.03,339.50 386.13,339.34 386.23,339.16 386.33,338.96 386.43,338.72 386.53,338.45 386.63,338.13 386.73,337.76 386.83,337.33 386.93,336.81 387.03,336.19 387.13,335.43 387.23,334.51 387.33,333.36 387.43,331.90 387.53,330.02 387.63,327.54 387.73,324.20 387.83,319.56 387.93,312.94 388.03,303.15 388.13,288.23 388.23,265.25 388.33,231.59 388.43,192.83 388.53,174.73 388.53,174.80 388.63,196.91 388.73,235.99 388.83,268.42 388.93,290.31 389.03,304.50 389.13,313.84 389.23,320.19 389.33,324.65 389.43,327.87 389.53,330.27 389.63,332.10 389.73,333.52 389.83,334.64 389.93,335.55 390.03,336.28 390.13,336.89 390.23,337.40 390.33,337.83 390.43,338.19 390.53,338.50 390.63,338.77 390.73,339.01 390.83,339.21 390.93,339.39 391.03,339.55 391.13,339.69 391.23,339.82 391.33,339.93 391.43,340.03 391.53,340.12 391.63,340.20 391.73,340.27 391.83,340.34 391.93,340.40 392.03,340.46 392.13,340.51 392.23,340.55 392.33,340.59 392.43,340.63 392.53,340.67 392.63,340.70 392.73,340.73 392.83,340.75 392.93,340.78 393.03,340.80 393.13,340.82 393.23,340.84 393.33,340.85 393.43,340.87 393.53,340.88 393.63,340.89 393.73,340.90 393.83,340.91 393.93,340.92 394.03,340.93 394.13,340.93 394.23,340.93 394.33,340.94 394.43,340.94 394.53,340.94 394.63,340.94 394.73,340.93 394.83,340.93 394.93,340.92 395.03,340.92 395.13,340.91 395.23,340.90 395.33,340.89 395.43,340.88 395.53,340.86 395.63,340.84 395.73,340.83 395.83,340.81 395.93,340.78 396.03,340.76 396.13,340.73 396.23,340.70 396.33,340.67 396.43,340.63 396.53,340.59 396.63,340.54 396.73,340.49 396.83,340.44 396.93,340.38 397.03,340.31 397.13,340.24 397.23,340.15 397.33,340.06 397.43,339.95 397.53,339.83 397.63,339.70 397.73,339.55 397.83,339.37 397.93,339.17 398.03,338.94 398.13,338.67 398.23,338.36 398.33,337.99 398.43,337.56 398.53,337.03 398.63,336.39 398.73,335.61 398.83,334.63 398.93,333.40 399.03,331.80 399.13,329.69 399.23,326.85 399.33,322.91 399.43,317.27 399.53,308.92 399.63,296.19 399.73,276.57 399.83,247.97 399.93,215.51 400.02,201.25 400.03,201.42 400.13,220.97 400.23,253.86 400.33,280.83 400.43,298.96 400.53,310.73 400.63,318.48 400.73,323.75 400.83,327.46 400.93,330.14 401.03,332.14 401.13,333.66 401.23,334.84 401.33,335.78 401.43,336.54 401.53,337.15 401.63,337.66 401.73,338.09 401.83,338.45 401.93,338.75 402.03,339.01 402.13,339.24 402.23,339.43 402.33,339.60 402.43,339.75 402.53,339.89 402.63,340.00 402.73,340.11 402.83,340.20 402.93,340.29 403.03,340.36 403.13,340.43 403.23,340.49 403.33,340.55 403.43,340.60 403.53,340.64 403.63,340.69 403.73,340.72 403.83,340.76 403.93,340.79 404.03,340.82 404.13,340.85 404.23,340.87 404.33,340.89 404.43,340.91 404.53,340.93 404.63,340.95 404.73,340.96 404.83,340.97 404.93,340.98 405.03,340.99 405.13,341.00 405.23,341.01 405.33,341.02 405.43,341.02 405.53,341.03 405.63,341.03 405.73,341.03 405.83,341.03 405.93,341.03 406.03,341.03 406.13,341.03 406.23,341.02 406.33,341.02 406.43,341.01 406.53,341.00 406.63,340.99 406.73,340.98 406.83,340.97 406.93,340.96 407.03,340.94 407.13,340.92 407.23,340.90 407.33,340.88 407.43,340.86 407.53,340.83 407.63,340.80 407.73,340.77 407.83,340.73 407.93,340.69 408.03,340.64 408.13,340.59 408.23,340.54 408.33,340.48 408.43,340.41 408.53,340.33 408.63,340.24 408.73,340.15 408.83,340.03 408.93,339.91 409.03,339.77 409.13,339.60 409.23,339.41 409.33,339.19 409.43,338.93 409.53,338.63 409.63,338.27 409.73,337.83 409.83,337.30 409.93,336.65 410.03,335.85 410.13,334.82 410.23,333.50 410.33,331.75 410.43,329.39 410.53,326.12 410.63,321.42 410.73,314.47 410.83,303.87 410.93,287.54 411.03,263.79 411.13,237.15 411.22,225.98 411.23,226.20 411.33,242.86 411.43,269.97 411.53,292.00 411.63,306.78 411.73,316.37 411.83,322.69 411.93,326.99 412.03,330.02 412.13,332.22 412.23,333.85 412.33,335.10 412.43,336.07 412.53,336.84 412.63,337.45 412.73,337.96 412.83,338.38 412.93,338.73 413.03,339.02 413.13,339.27 413.23,339.48 413.33,339.67 413.43,339.83 413.53,339.97 413.63,340.09 413.73,340.20 413.83,340.30 413.93,340.38 414.03,340.46 414.13,340.53 414.23,340.59 414.33,340.65 414.43,340.70 414.53,340.74 414.63,340.78 414.73,340.82 414.83,340.86 414.93,340.89 415.03,340.92 415.13,340.94 415.23,340.96 415.33,340.99 415.43,341.01 415.53,341.02 415.63,341.04 415.73,341.05 415.83,341.07 415.93,341.08 416.03,341.09 416.13,341.10 416.23,341.10 416.33,341.11 416.43,341.12 416.53,341.12 416.63,341.12 416.73,341.12 416.83,341.13 416.93,341.13 417.03,341.13 417.13,341.12 417.23,341.12 417.33,341.12 417.43,341.11 417.53,341.10 417.63,341.10 417.73,341.09 417.83,341.08 417.93,341.06 418.03,341.05 418.13,341.04 418.23,341.02 418.33,341.00 418.43,340.98 418.53,340.95 418.63,340.93 418.73,340.90 418.83,340.87 418.93,340.83 419.03,340.79 419.13,340.75 419.23,340.70 419.33,340.64 419.43,340.58 419.53,340.51 419.63,340.43 419.73,340.34 419.83,340.24 419.93,340.12 420.03,339.99 420.13,339.84 420.23,339.66 420.33,339.45 420.43,339.20 420.53,338.91 420.63,338.55 420.73,338.12 420.83,337.60 420.93,336.94 421.03,336.10 421.13,335.02 421.23,333.60 421.33,331.68 421.43,329.00 421.53,325.17 421.63,319.48 421.73,310.80 421.83,297.44 421.93,278.07 422.03,256.63 422.12,248.11 422.13,248.38 422.23,262.35 422.33,284.27 422.43,301.91 422.53,313.72 422.63,321.38 422.73,326.44 422.83,329.88 422.93,332.31 423.03,334.07 423.13,335.38 423.23,336.38 423.33,337.16 423.43,337.78 423.53,338.28 423.63,338.68 423.73,339.02 423.83,339.30 423.93,339.53 424.03,339.74 424.13,339.91 424.23,340.06 424.33,340.19 424.43,340.30 424.53,340.40 424.63,340.49 424.73,340.56 424.83,340.63 424.93,340.70 425.03,340.75 425.13,340.80 425.23,340.85 425.33,340.89 425.43,340.92 425.53,340.96 425.63,340.99 425.73,341.01 425.83,341.04 425.93,341.06 426.03,341.08 426.13,341.10 426.23,341.12 426.33,341.13 426.43,341.15 426.53,341.16 426.63,341.17 426.73,341.18 426.83,341.19 426.93,341.19 427.03,341.20 427.13,341.21 427.23,341.21 427.33,341.21 427.43,341.22 427.53,341.22 427.63,341.22 427.73,341.22 427.83,341.22 427.93,341.22 428.03,341.21 428.13,341.21 428.23,341.20 428.33,341.20 428.43,341.19 428.53,341.18 428.63,341.17 428.73,341.16 428.83,341.15 428.93,341.13 429.03,341.12 429.13,341.10 429.23,341.08 429.33,341.06 429.43,341.03 429.53,341.01 429.63,340.98 429.73,340.94 429.83,340.90 429.93,340.86 430.03,340.81 430.13,340.76 430.23,340.69 430.33,340.62 430.43,340.54 430.53,340.45 430.63,340.35 430.73,340.23 430.83,340.09 430.93,339.92 431.03,339.73 431.13,339.50 431.23,339.22 431.33,338.88 431.43,338.47 431.53,337.95 431.63,337.29 431.73,336.43 431.83,335.31 431.93,333.79 432.03,331.67 432.13,328.62 432.23,324.11 432.33,317.21 432.43,306.60 432.53,291.28 432.63,274.61 432.71,268.44 432.73,268.76 432.83,280.17 432.93,297.31 433.03,310.95 433.13,320.05 433.23,325.96 433.33,329.86 433.43,332.53 433.53,334.40 433.63,335.76 433.73,336.78 433.83,337.56 433.93,338.16 434.03,338.64 434.13,339.03 434.23,339.34 434.33,339.61 434.43,339.82 434.53,340.01 434.63,340.16 434.73,340.30 434.83,340.41 434.93,340.52 435.03,340.60 435.13,340.68 435.23,340.75 435.33,340.81 435.43,340.86 435.53,340.91 435.63,340.96 435.73,340.99 435.83,341.03 435.93,341.06 436.03,341.09 436.13,341.11 436.23,341.14 436.33,341.16 436.43,341.18 436.53,341.19 436.63,341.21 436.73,341.22 436.83,341.24 436.93,341.25 437.03,341.26 437.13,341.27 437.23,341.28 437.33,341.28 437.43,341.29 437.53,341.30 437.63,341.30 437.73,341.30 437.83,341.31 437.93,341.31 438.03,341.31 438.13,341.31 438.23,341.31 438.33,341.31 438.43,341.31 438.53,341.30 438.63,341.30 438.73,341.29 438.83,341.29 438.93,341.28 439.03,341.27 439.13,341.26 439.23,341.25 439.33,341.24 439.43,341.23 439.53,341.21 439.63,341.20 439.73,341.18 439.83,341.16 439.93,341.14 440.03,341.11 440.13,341.08 440.23,341.05 440.33,341.01 440.43,340.97 440.53,340.92 440.63,340.87 440.73,340.81 440.83,340.74 440.93,340.66 441.03,340.56 441.13,340.46 441.23,340.33 441.33,340.18 441.43,340.00 441.53,339.79 441.63,339.53 441.73,339.21 441.83,338.80 441.93,338.29 442.03,337.63 442.13,336.76 442.23,335.58 442.33,333.93 442.43,331.56 442.53,328.04 442.63,322.66 442.73,314.38 442.83,302.52 442.93,289.90 443.01,285.66 443.03,286.05 443.13,295.24 443.23,308.31 443.33,318.57 443.43,325.40 443.53,329.83 443.63,332.76 443.73,334.76 443.83,336.17 443.93,337.20 444.03,337.97 444.13,338.55 444.23,339.01 444.33,339.37 444.43,339.67 444.53,339.91 444.63,340.10 444.73,340.27 444.83,340.41 444.93,340.53 445.03,340.63 445.13,340.72 445.23,340.80 445.33,340.86 445.43,340.92 445.53,340.97 445.63,341.02 445.73,341.06 445.83,341.10 445.93,341.13 446.03,341.16 446.13,341.18 446.23,341.21 446.33,341.23 446.43,341.25 446.53,341.27 446.63,341.28 446.73,341.30 446.83,341.31 446.93,341.32 447.03,341.33 447.13,341.34 447.23,341.35 447.33,341.36 447.43,341.36 447.53,341.37 447.63,341.37 447.73,341.38 447.83,341.38 447.93,341.38 448.03,341.39 448.13,341.39 448.23,341.39 448.33,341.39 448.43,341.39 448.53,341.38 448.63,341.38 448.73,341.38 448.83,341.38 448.93,341.37 449.03,341.37 449.13,341.36 449.23,341.35 449.33,341.34 449.43,341.33 449.53,341.32 449.63,341.31 449.73,341.30 449.83,341.28 449.93,341.26 450.03,341.24 450.13,341.22 450.23,341.19 450.33,341.17 450.43,341.13 450.53,341.10 450.63,341.06 450.73,341.01 450.83,340.95 450.93,340.89 451.03,340.82 451.13,340.74 451.23,340.64 451.33,340.52 451.43,340.38 451.53,340.22 451.63,340.01 451.73,339.76 451.83,339.45 451.93,339.05 452.03,338.53 452.13,337.84 452.23,336.91 452.33,335.61 452.43,333.74 452.53,330.94 452.63,326.66 452.73,320.10 452.83,310.79 452.93,301.28 453.00,298.58 453.03,299.11 453.13,306.70 453.23,316.70 453.33,324.38 453.43,329.47 453.53,332.77 453.63,334.96 453.73,336.46 453.83,337.52 453.93,338.29 454.03,338.87 454.13,339.31 454.23,339.66 454.33,339.93 454.43,340.15 454.53,340.34 454.63,340.49 454.73,340.61 454.83,340.72 454.93,340.81 455.03,340.89 455.13,340.95 455.23,341.01 455.33,341.06 455.43,341.11 455.53,341.15 455.63,341.18 455.73,341.21 455.83,341.24 455.93,341.26 456.03,341.29 456.13,341.31 456.23,341.33 456.33,341.34 456.43,341.36 456.53,341.37 456.63,341.38 456.73,341.39 456.83,341.40 456.93,341.41 457.03,341.42 457.13,341.42 457.23,341.43 457.33,341.44 457.43,341.44 457.53,341.44 457.63,341.45 457.73,341.45 457.83,341.45 457.93,341.45 458.03,341.45 458.13,341.46 458.23,341.45 458.33,341.45 458.43,341.45 458.53,341.45 458.63,341.45 458.73,341.44 458.83,341.44 458.93,341.43 459.03,341.43 459.13,341.42 459.23,341.41 459.33,341.40 459.43,341.39 459.53,341.38 459.63,341.37 459.73,341.36 459.83,341.34 459.93,341.32 460.03,341.30 460.13,341.28 460.23,341.25 460.33,341.22 460.43,341.18 460.53,341.14 460.63,341.10 460.73,341.04 460.83,340.98 460.93,340.90 461.03,340.82 461.13,340.71 461.23,340.59 461.33,340.43 461.43,340.24 461.53,340.00 461.63,339.70 461.73,339.30 461.83,338.78 461.93,338.06 462.03,337.06 462.13,335.62 462.23,333.45 462.33,330.13 462.43,325.05 462.53,317.98 462.63,311.19 462.69,309.70 462.73,310.40 462.83,316.50 462.93,323.83 463.03,329.32 463.13,332.93 463.23,335.27 463.33,336.83 463.43,337.91 463.53,338.67 463.63,339.22 463.73,339.64 463.83,339.96 463.93,340.21 464.03,340.41 464.13,340.57 464.23,340.70 464.33,340.81 464.43,340.90 464.53,340.98 464.63,341.05 464.73,341.10 464.83,341.15 464.93,341.20 465.03,341.23 465.13,341.27 465.23,341.30 465.33,341.32 465.43,341.34 465.53,341.36 465.63,341.38 465.73,341.40 465.83,341.41 465.93,341.43 466.03,341.44 466.13,341.45 466.23,341.46 466.33,341.47 466.43,341.47 466.53,341.48 466.63,341.49 466.73,341.49 466.83,341.50 466.93,341.50 467.03,341.51 467.13,341.51 467.23,341.51 467.33,341.51 467.43,341.51 467.53,341.52 467.63,341.52 467.73,341.52 467.83,341.52 467.93,341.52 468.03,341.51 468.13,341.51 468.23,341.51 468.33,341.51 468.43,341.50 468.53,341.50 468.63,341.49 468.73,341.49 468.83,341.48 468.93,341.47 469.03,341.46 469.13,341.45 469.23,341.44 469.33,341.43 469.43,341.41 469.53,341.40 469.63,341.38 469.73,341.35 469.83,341.33 469.93,341.30 470.03,341.27 470.13,341.23 470.23,341.18 470.33,341.13 470.43,341.06 470.53,340.99 470.63,340.89 470.73,340.78 470.83,340.64 470.93,340.47 471.03,340.24 471.13,339.95 471.23,339.56 471.33,339.03 471.43,338.27 471.53,337.18 471.63,335.55 471.73,333.03 471.83,329.19 471.93,324.01 472.03,319.53 472.08,318.92 472.13,319.83 472.23,324.57 472.33,329.65 472.43,333.34 472.53,335.75 472.63,337.32 472.73,338.37 472.83,339.09 472.93,339.61 473.03,339.99 473.13,340.27 473.23,340.49 473.33,340.67 473.43,340.80 473.53,340.92 473.63,341.01 473.73,341.08 473.83,341.15 473.93,341.20 474.03,341.25 474.13,341.29 474.23,341.32 474.33,341.35 474.43,341.38 474.53,341.40 474.63,341.42 474.73,341.44 474.83,341.45 474.93,341.47 475.03,341.48 475.13,341.49 475.23,341.50 475.33,341.51 475.43,341.52 475.53,341.53 475.63,341.53 475.73,341.54 475.83,341.54 475.93,341.55 476.03,341.55 476.13,341.56 476.23,341.56 476.33,341.56 476.43,341.56 476.53,341.56 476.63,341.57 476.73,341.57 476.83,341.57 476.93,341.57 477.03,341.57 477.13,341.57 477.23,341.57 477.33,341.56 477.43,341.56 477.53,341.56 477.63,341.56 477.73,341.55 477.83,341.55 477.93,341.54 478.03,341.54 478.13,341.53 478.23,341.52 478.33,341.52 478.43,341.51 478.53,341.50 478.63,341.48 478.73,341.47 478.83,341.45 478.93,341.43 479.03,341.41 479.13,341.39 479.23,341.36 479.33,341.33 479.43,341.29 479.53,341.24 479.63,341.18 479.73,341.11 479.83,341.03 479.93,340.92 480.03,340.79 480.13,340.62 480.23,340.40 480.33,340.10 480.43,339.70 480.53,339.12 480.63,338.27 480.73,337.00 480.83,335.03 480.93,332.06 481.03,328.25 481.13,325.48 481.16,325.34 481.23,326.49 481.33,330.14 481.43,333.64 481.53,336.09 481.63,337.69 481.73,338.73 481.83,339.43 481.93,339.92 482.03,340.26 482.13,340.52 482.23,340.72 482.33,340.87 482.43,340.99 482.53,341.08 482.63,341.16 482.73,341.22 482.83,341.27 482.93,341.32 483.03,341.36 483.13,341.39 483.23,341.42 483.33,341.44 483.43,341.46 483.53,341.48 483.63,341.49 483.73,341.51 483.83,341.52 483.93,341.53 484.03,341.54 484.13,341.55 484.23,341.56 484.33,341.57 484.43,341.57 484.53,341.58 484.63,341.58 484.73,341.59 484.83,341.59 484.93,341.59 485.03,341.60 485.13,341.60 485.23,341.60 485.33,341.60 485.43,341.61 485.53,341.61 485.63,341.61 485.73,341.61 485.83,341.61 485.93,341.61 486.03,341.61 486.13,341.61 486.23,341.61 486.33,341.61 486.43,341.60 486.53,341.60 486.63,341.60 486.73,341.60 486.83,341.59 486.93,341.59 487.03,341.58 487.13,341.58 487.23,341.57 487.33,341.56 487.43,341.55 487.53,341.54 487.63,341.53 487.73,341.52 487.83,341.50 487.93,341.49 488.03,341.47 488.13,341.44 488.23,341.41 488.33,341.38 488.43,341.34 488.53,341.29 488.63,341.23 488.73,341.15 488.83,341.05 488.93,340.93 489.03,340.76 489.13,340.54 489.23,340.23 489.33,339.79 489.43,339.14 489.53,338.16 489.63,336.64 489.73,334.39 489.83,331.74 489.93,330.35 489.93,330.35 490.03,331.70 490.13,334.35 490.23,336.60 490.33,338.14 490.43,339.13 490.53,339.78 490.63,340.23 490.73,340.54 490.83,340.76 490.93,340.93 491.03,341.06 491.13,341.15 491.23,341.23 491.33,341.29 491.43,341.35 491.53,341.39 491.63,341.42 491.73,341.45 491.83,341.48 491.93,341.50 492.03,341.52 492.13,341.53 492.23,341.55 492.33,341.56 492.43,341.57 492.53,341.58 492.63,341.59 492.73,341.60 492.83,341.60 492.93,341.61 493.03,341.61 493.13,341.62 493.23,341.62 493.33,341.63 493.43,341.63 493.53,341.63 493.63,341.64 493.73,341.64 493.83,341.64 493.93,341.64 494.03,341.64 494.13,341.64 494.23,341.64 494.33,341.65 494.43,341.65 494.53,341.65 494.63,341.65 494.73,341.65 494.83,341.64 494.93,341.64 495.03,341.64 495.13,341.64 495.23,341.64 495.33,341.64 495.43,341.63 495.53,341.63 495.63,341.63 495.73,341.62 495.83,341.62 495.93,341.61 496.03,341.61 496.13,341.60 496.23,341.59 496.33,341.58 496.43,341.57 496.53,341.56 496.63,341.54 496.73,341.52 496.83,341.50 496.93,341.47 497.03,341.44 497.13,341.40 497.23,341.35 497.33,341.28 497.43,341.19 497.53,341.08 497.63,340.93 497.73,340.71 497.83,340.40 497.93,339.93 498.03,339.22 498.13,338.13 498.23,336.58 498.33,335.01 498.40,334.56 498.43,334.65 498.53,335.91 498.63,337.57 498.73,338.85 498.83,339.69 498.93,340.24 499.03,340.60 499.13,340.85 499.23,341.03 499.33,341.16 499.43,341.25 499.53,341.33 499.63,341.39 499.73,341.43 499.83,341.47 499.93,341.50 500.03,341.52 500.13,341.54 500.23,341.56 500.33,341.58 500.43,341.59 500.53,341.60 500.63,341.61 500.73,341.62 500.83,341.63 500.93,341.63 501.03,341.64 501.13,341.64 501.23,341.65 501.33,341.65 501.43,341.66 501.53,341.66 501.63,341.66 501.73,341.67 501.83,341.67 501.93,341.67 502.03,341.67 502.13,341.67 502.23,341.67 502.33,341.68 502.43,341.68 502.53,341.68 502.63,341.68 502.73,341.68 502.83,341.68 502.93,341.68 503.03,341.68 503.13,341.68 503.23,341.68 503.33,341.68 503.43,341.68 503.53,341.68 503.63,341.68 503.73,341.67 503.83,341.67 503.93,341.67 504.03,341.67 504.13,341.67 504.23,341.66 504.33,341.66 504.43,341.65 504.53,341.65 504.63,341.64 504.73,341.64 504.83,341.63 504.93,341.62 505.03,341.60 505.13,341.59 505.23,341.57 505.33,341.55 505.43,341.52 505.53,341.48 505.63,341.43 505.73,341.36 505.83,341.27 505.93,341.14 506.03,340.95 506.13,340.66 506.23,340.22 506.33,339.56 506.43,338.69" fill="none" stroke="#ff40ff" stroke-width="0.92" stroke-linejoin="round"/>
<path d="M117.9 21.55H152.2" stroke="#ff60ff" stroke-width="1.25"/>
<text id="leg" x="156.5" y="27.1" font-size="15.2" class="t">Absorption coefficient of CO</text>
<path d="M328.3 72.5L349 58" stroke="#111" stroke-width="1.2"/>
<path d="M353.3 55L345.2 57.2L348.7 62.2Z" fill="#111"/>
<text id="ann" x="357.7" y="58.9" font-size="15.2" class="t">4291.50 cm<tspan font-size="10.4" dy="-8.6">-1</tspan></text>
<text x="114.25" y="367.3" font-size="16.7" text-anchor="middle" class="t">4240</text>
<text x="196.81" y="367.3" font-size="16.7" text-anchor="middle" class="t">4260</text>
<text x="279.37" y="367.3" font-size="16.7" text-anchor="middle" class="t">4280</text>
<text x="361.92" y="367.3" font-size="16.7" text-anchor="middle" class="t">4300</text>
<text x="444.48" y="367.3" font-size="16.7" text-anchor="middle" class="t">4320</text>
<text x="527.04" y="367.3" font-size="16.7" text-anchor="middle" class="t">4340</text>
<text x="107.2" y="344.7" font-size="16.6" text-anchor="end" class="t">0.0</text>
<text x="107" y="287.77" font-size="16.6" text-anchor="end" class="t">2.0x10<tspan font-size="10.8" dy="-9.3">-8</tspan></text>
<text x="107" y="227.24" font-size="16.6" text-anchor="end" class="t">4.0x10<tspan font-size="10.8" dy="-9.3">-8</tspan></text>
<text x="107" y="166.71" font-size="16.6" text-anchor="end" class="t">6.0x10<tspan font-size="10.8" dy="-9.3">-8</tspan></text>
<text x="107" y="106.18" font-size="16.6" text-anchor="end" class="t">8.0x10<tspan font-size="10.8" dy="-9.3">-8</tspan></text>
<text x="107" y="45.65" font-size="16.6" text-anchor="end" class="t">1.0x10<tspan font-size="10.8" dy="-9.3">-7</tspan></text>
<text id="xt" x="320.6" y="393.6" font-size="20.7" text-anchor="middle" class="t">Wavenumber (cm<tspan font-size="15" dy="-9.6">-1</tspan><tspan dy="9.6">)</tspan></text>
<text id="yt" transform="translate(26 317.2) rotate(-90)" font-size="20.7" letter-spacing="0.75" class="t">Absorption coefficient (cm<tspan font-size="16.5" dy="-8.2" letter-spacing="0.5">-1</tspan><tspan dy="8.2">)</tspan></text>
</svg>
</body></html>
